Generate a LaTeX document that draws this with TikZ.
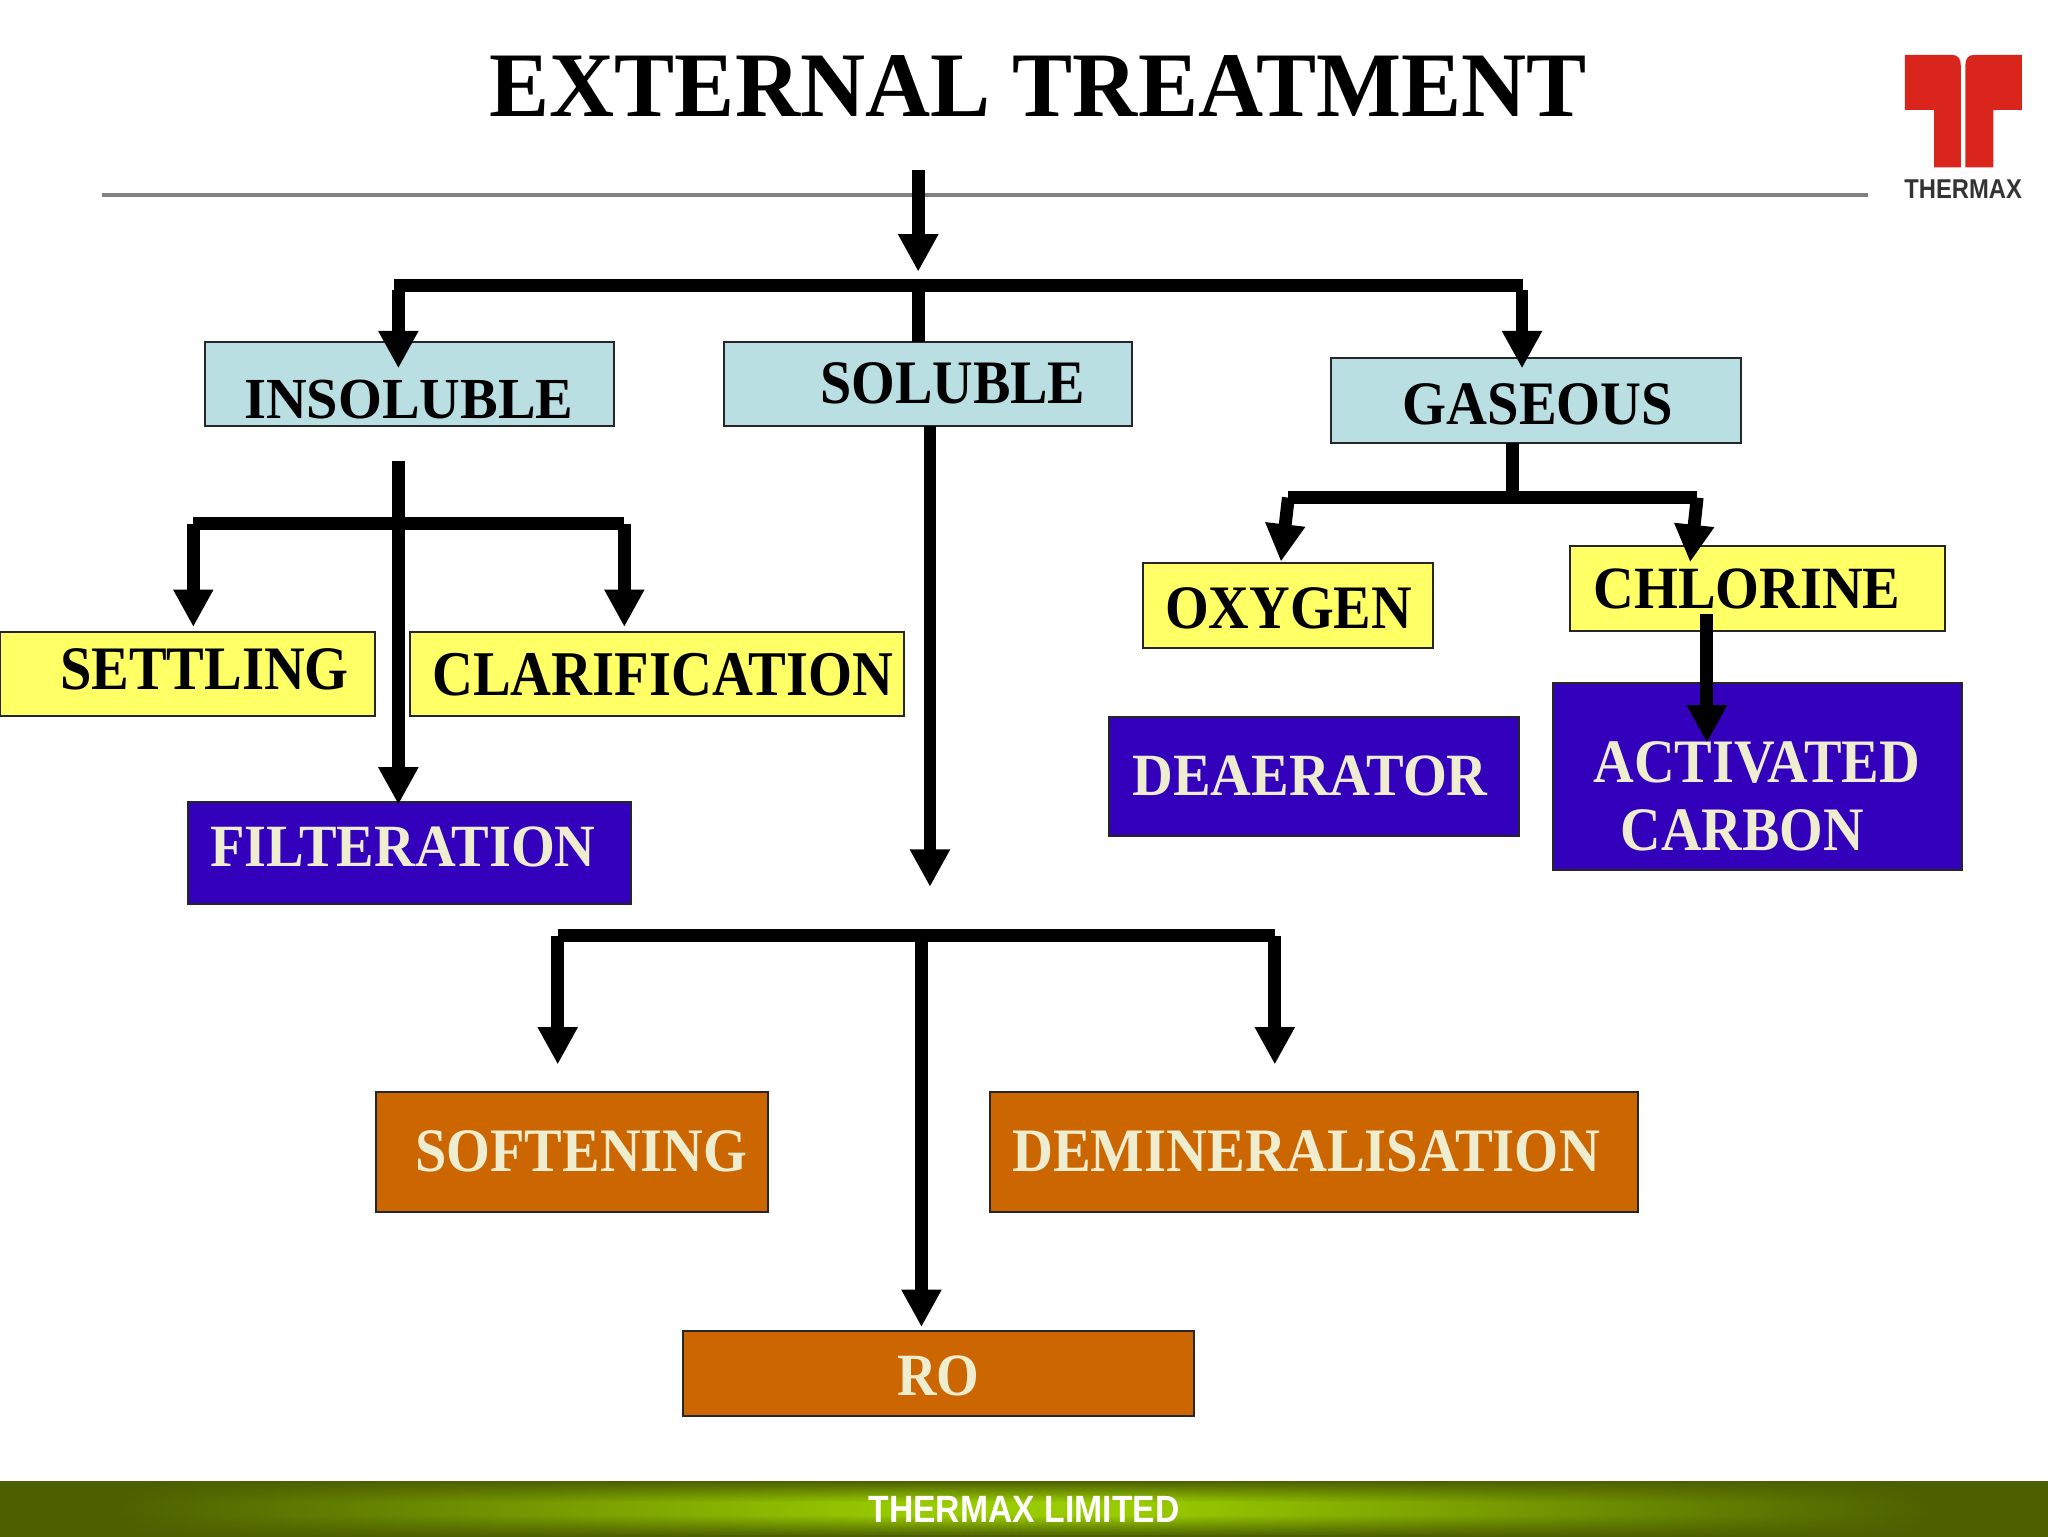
\documentclass[tikz,border=0pt]{standalone}
\usepackage{fontspec}
\usepackage{graphicx}
\setmainfont{Liberation Serif}
\newfontfamily\logofont{Liberation Sans}
\usetikzlibrary{arrows.meta,fadings}
\definecolor{paleblue}{HTML}{B9DFE3}
\definecolor{palered}{HTML}{DA251C}
\definecolor{boxyellow}{HTML}{FFFF66}
\definecolor{boxblue}{HTML}{3300BB}
\definecolor{boxorange}{HTML}{CC6600}
\definecolor{cream}{HTML}{EEEDD0}
\definecolor{banddark}{HTML}{4D6000}
\definecolor{bandlight}{HTML}{99CC00}
\newcommand{\txlab}[5]{%
  \pgfmathsetmacro{\tdx}{((#1+#2)/2-\bcx)*0.6}%
  \pgfmathsetmacro{\tdy}{(\bcy-#4+0.8)*0.6}%
  \pgfmathsetmacro{\tww}{(#2-#1)*0.6}%
  \pgfmathsetmacro{\thh}{(#4-#3)*0.6*0.95}%
  \rlap{\hspace{\tdx pt}\raisebox{\tdy pt}[0pt][0pt]{\makebox[0pt]{\resizebox{\tww pt}{\thh pt}{\bfseries #5}}}}}
\begin{document}
\begin{tikzpicture}[x=0.6pt,y=-0.6pt,
  base/.style={draw=black!85,line width=0.9pt,inner sep=0pt,outer sep=0pt},
  blue1/.style={base,fill=paleblue,text=black},
  yel/.style={base,fill=boxyellow,text=black},
  navy/.style={base,fill=boxblue,text=cream},
  org/.style={base,fill=boxorange,text=cream},
  conn/.style={line width=5.9pt,black},
  arr/.style={conn,-{Triangle[length=17.2pt,width=17.3pt]}},
  rule/.style={draw=black!50,line width=1.8pt},
  logored/.style={fill=palered}]
\useasboundingbox (0,0) rectangle (1568,1176);
% --- band
\begin{scope}
\clip (0,1134) rectangle (1568,1176);
\fill[banddark] (-5,1130) rectangle (1573,1185);
\shade[left color=banddark,right color=bandlight] (90,1130) rectangle (700,1185);
\fill[bandlight] (699.5,1130) rectangle (868.5,1185);
\shade[left color=bandlight,right color=banddark] (868,1130) rectangle (1478,1185);
\fill[banddark,path fading=south] (-5,1134) rectangle (1573,1150);
\fill[banddark,path fading=north] (-5,1160) rectangle (1573,1176);
\fill[banddark] (-5,1175) rectangle (1573,1185);
\end{scope}
\node[inner sep=0pt,text=white] (band) at (784,1156) {\resizebox{142.8pt}{12pt}{\logofont\bfseries THERMAX LIMITED}};
% --- title
\node[inner sep=0pt,anchor=base] (title) at (795,89) {\resizebox{504pt}{28pt}{\bfseries EXTERNAL TREATMENT}};
\draw[rule] (78,149) -- (1430,149);
% --- logo
\path[logored] (1458.3,42.1) -- (1495,42.1) .. controls (1499,42.1) and (1501.2,45) .. (1501.2,50) -- (1501.2,128.1) -- (1480.8,128.1) -- (1480.8,84.2) -- (1458.3,84.2) -- cycle;
\path[logored] (1548,42.1) -- (1511,42.1) .. controls (1507,42.1) and (1504.7,45) .. (1504.7,50) -- (1504.7,128.1) -- (1526.2,128.1) -- (1526.2,84.2) -- (1548,84.2) -- cycle;
\node[inner sep=0pt,anchor=base,text=black!80] (logotext) at (1503,152) {\resizebox{54pt}{8.6pt}{\logofont\bfseries THERMAX}};
% --- boxes
\def\bcx{313.5}\def\bcy{294}
\node[blue1,minimum width=187.8pt,minimum height=38.4pt] (ins) at (\bcx,\bcy) {\txlab{187}{439}{290}{321}{INSOLUBLE}};
\def\bcx{710.5}\def\bcy{294}
\node[blue1,minimum width=187.8pt,minimum height=38.4pt] (sol) at (\bcx,\bcy) {\txlab{628}{831}{277}{310}{SOLUBLE}};
\def\bcx{1176}\def\bcy{306.5}
\node[blue1,minimum width=188.4pt,minimum height=39pt] (gas) at (\bcx,\bcy) {\txlab{1074}{1281}{293}{326}{GASEOUS}};
\def\bcx{143.5}\def\bcy{516}
\node[yel,minimum width=172.2pt,minimum height=38.4pt] (set) at (\bcx,\bcy) {\txlab{46}{267}{496}{529}{SETTLING}};
\def\bcx{503}\def\bcy{516}
\node[yel,minimum width=226.8pt,minimum height=38.4pt] (cla) at (\bcx,\bcy) {\txlab{331}{684}{499}{533}{CLARIFICATION}};
\def\bcx{313.5}\def\bcy{653}
\node[navy,minimum width=203.4pt,minimum height=46.8pt] (fil) at (\bcx,\bcy) {\txlab{161}{456}{632}{664}{FILTERATION}};
\def\bcx{986}\def\bcy{463.5}
\node[yel,minimum width=133.2pt,minimum height=39pt] (oxy) at (\bcx,\bcy) {\txlab{892}{1081}{449}{482}{OXYGEN}};
\def\bcx{1345.5}\def\bcy{450.5}
\node[yel,minimum width=172.2pt,minimum height=39pt] (chl) at (\bcx,\bcy) {\txlab{1220}{1455}{435}{467}{CHLORINE}};
\def\bcx{1006}\def\bcy{594.5}
\node[navy,minimum width=188.4pt,minimum height=54.6pt] (dea) at (\bcx,\bcy) {\txlab{867}{1139}{578}{610}{DEAERATOR}};
\def\bcx{1345.5}\def\bcy{594.5}
\node[navy,minimum width=187.8pt,minimum height=85.8pt] (act) at (\bcx,\bcy) {\txlab{1220}{1470}{567}{600}{ACTIVATED}\txlab{1241}{1427}{619}{652}{CARBON}};
\def\bcx{438}\def\bcy{882}
\node[org,minimum width=180pt,minimum height=55.2pt] (sof) at (\bcx,\bcy) {\txlab{318}{572}{865}{898}{SOFTENING}};
\def\bcx{1006}\def\bcy{882}
\node[org,minimum width=297.6pt,minimum height=55.2pt] (dem) at (\bcx,\bcy) {\txlab{775}{1225}{865}{898}{DEMINERALISATION}};
\def\bcx{718.5}\def\bcy{1051.5}
\node[org,minimum width=234.6pt,minimum height=39pt] (ro) at (\bcx,\bcy) {\txlab{687}{750}{1037}{1069}{RO}};
% --- connector points
\coordinate (topstart) at (703,130);
\coordinate (toptip) at (703,208);
\coordinate (topbarl) at (301.4,218.9);
\coordinate (topbarr) at (1166,218.9);
\coordinate (insdrop) at (305,222);
\coordinate (instip) at (305,282);
\coordinate (gasdrop) at (1165.3,222);
\coordinate (gastip) at (1165.3,282);
\coordinate (solbar) at (703,218.9);
\coordinate (soltop) at (703,262);
\coordinate (instail) at (305,353);
\coordinate (filtip) at (305,616);
\coordinate (midbarl) at (148,401);
\coordinate (midbarr) at (478,401);
\coordinate (setdrop) at (148,401);
\coordinate (settip) at (148,480);
\coordinate (cladrop) at (478,401);
\coordinate (clatip) at (478,480);
\coordinate (soltail) at (712,326);
\coordinate (soltip) at (712,679);
\coordinate (lowbarl) at (427,716.5);
\coordinate (lowbarr) at (976,716.5);
\coordinate (lowmid) at (705.5,716.5);
\coordinate (softip) at (427,815);
\coordinate (demtip) at (976,815);
\coordinate (rotip) at (705.5,1016);
\coordinate (gastail) at (1158,339);
\coordinate (gasmid) at (1158,381);
\coordinate (oxyl) at (986.4,381);
\coordinate (chlr) at (1299.4,381);
\coordinate (oxytip) at (980.7,430);
\coordinate (chltip) at (1294,430.4);
\coordinate (chltail) at (1306.8,470.2);
\coordinate (acttip) at (1306.8,568.6);
% --- connectors
\draw[arr] (topstart) -- (toptip);
\draw[conn] (topbarl) -- (topbarr);
\draw[conn] (solbar) -- (soltop);
\draw[arr] (insdrop) -- (instip);
\draw[arr] (gasdrop) -- (gastip);
\draw[arr] (instail) -- (filtip);
\draw[conn] (midbarl) -- (midbarr);
\draw[arr] (setdrop) -- (settip);
\draw[arr] (cladrop) -- (clatip);
\draw[arr] (soltail) -- (soltip);
\draw[conn] (lowbarl) -- (lowbarr);
\draw[arr] (lowbarl) -- (softip);
\draw[arr] (lowbarr) -- (demtip);
\draw[arr] (lowmid) -- (rotip);
\draw[conn] (gastail) -- (gasmid);
\draw[conn] (oxyl) -- (chlr);
\draw[arr] (oxyl) -- (oxytip);
\draw[arr] (chlr) -- (chltip);
\draw[arr] (chltail) -- (acttip);
\end{tikzpicture}
\end{document}
